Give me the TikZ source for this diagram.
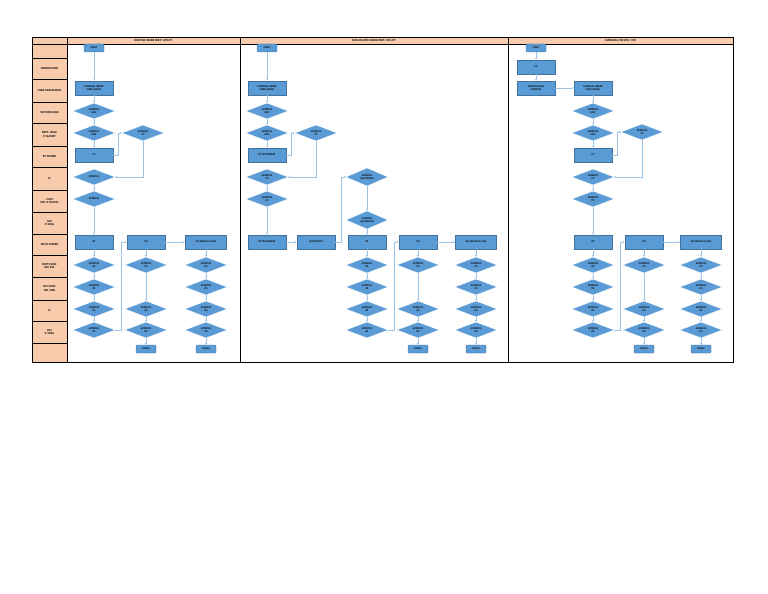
\documentclass[tikz,border=0pt]{standalone}
\usepackage{fontspec}
\setmainfont{Carlito}
\usetikzlibrary{shapes.geometric,arrows.meta}
\definecolor{bfill}{HTML}{5B9BD5}
\definecolor{bdraw}{HTML}{41719C}
\definecolor{peach}{HTML}{F8CBAD}
\definecolor{ln}{HTML}{9DC3E6}
\tikzset{
 every node/.style={font=\fontsize{2.6}{3}\selectfont\bfseries, align=center},
 bx/.style={rectangle, fill=bfill, draw=bdraw, line width=0.6pt, minimum width=38pt, minimum height=14pt, inner sep=0pt},
 wbx/.style={bx, minimum width=41pt},
 sbx/.style={rectangle, rounded corners=1.2pt, fill=bfill, draw=bdraw, line width=0.4pt, minimum width=20pt, minimum height=8pt, inner sep=0pt},
 dm/.style={diamond, fill=bfill, draw=white, line width=0.3pt, minimum width=42pt, minimum height=16pt, inner sep=0pt},
 ar/.style={ln, line width=0.5pt, -{Stealth[length=2pt,width=2pt]}},
 lab/.style={font=\fontsize{3}{3.6}\selectfont\bfseries}
}
\newcommand{\bottompart}[4]{%
 \node[bx] (#1pr) at (#2,242) {PR};
 \node[bx] (#1po) at (#3,242) {PO};
 \node[wbx] (#1pa) at (#4,242) {PO ABOVE 50 JUTA};
 \node[dm] (#1r1) at (#2,265) {APPROVE\\PR};
 \node[dm] (#1r2) at (#2,287) {APPROVE\\PR};
 \node[dm] (#1r3) at (#2,309) {APPROVE\\PR};
 \node[dm] (#1r4) at (#2,330) {APPROVE\\PR};
 \node[dm] (#1o1) at (#3,265) {APPROVE\\PO};
 \node[dm] (#1o3) at (#3,309) {APPROVE\\PO};
 \node[dm] (#1o4) at (#3,330) {APPROVE\\PO};
 \node[dm] (#1a1) at (#4,265) {APPROVE\\PO};
 \node[dm] (#1a2) at (#4,287) {APPROVE\\PO};
 \node[dm] (#1a3) at (#4,309) {APPROVE\\PO};
 \node[dm] (#1a4) at (#4,330) {APPROVE\\PO};
 \node[sbx] (#1f1) at (#3,349) {FINISH};
 \node[sbx] (#1f2) at (#4,349) {FINISH};
 \draw[ar] (#1pr) -- (#1r1); \draw[ar] (#1r1) -- (#1r2); \draw[ar] (#1r2) -- (#1r3); \draw[ar] (#1r3) -- (#1r4);
 \draw[ar] (#1r4.east) -- ++(6pt,0) |- (#1po.west);
 \draw[ar] (#1po) -- (#1o1); \draw[ar] (#1o1) -- (#1o3); \draw[ar] (#1o3) -- (#1o4); \draw[ar] (#1o4) -- (#1f1);
 \draw[ar] (#1po) -- (#1pa);
 \draw[ar] (#1pa) -- (#1a1); \draw[ar] (#1a1) -- (#1a2); \draw[ar] (#1a2) -- (#1a3); \draw[ar] (#1a3) -- (#1a4); \draw[ar] (#1a4) -- (#1f2);
}
\begin{document}
\begin{tikzpicture}[x=1pt,y=-1pt]
\useasboundingbox (0,0) rectangle (768,594);
\fill[white] (0,0) rectangle (768,594);
% frame
\fill[peach] (32,37) rectangle (733,44);
\fill[peach] (32,44) rectangle (67,362);
\foreach \y in {58,79,102,123,146,167,190,212,234,255,277,300,321,343} \draw[line width=0.6pt] (32,\y) -- (67,\y);
\draw[line width=0.6pt] (32,44) -- (733,44);
\foreach \x in {67,240,508} \draw[line width=0.6pt] (\x,37) -- (\x,362);
\draw[line width=0.8pt] (32,37) rectangle (733,362);
\node[lab] (h1) at (153.5,40.5) {ROUTINE SPARE PART/ UTILITY};
\node[lab] (h2) at (374,40.5) {NON ROUTIN SPARE PART/ UTILITY};
\node[lab] (h3) at (620.5,40.5) {MATERIAL FOR WO / IPO};
\node[lab] (l1) at (49.5,68.5) {PRODUCTION};
\node[lab] (l2) at (49.5,90.5) {USER/HERMAWAN};
\node[lab] (l3) at (49.5,112.5) {SECTION HEAD};
\node[lab] (l4) at (49.5,134.5) {DEPT. HEAD\\P. SLAMET};
\node[lab] (l5) at (49.5,156.5) {PP MAKER};
\node[lab] (l6) at (49.5,178.5) {IC};
\node[lab] (l7) at (49.5,201) {V GM\\MR. H LYLONG};
\node[lab] (l8) at (49.5,223) {GM\\P. GING};
\node[lab] (l9) at (49.5,244.5) {PR PO MAKER};
\node[lab] (l10) at (49.5,266) {DEPT HEAD\\IBU INA};
\node[lab] (l11) at (49.5,288.5) {DIV HEAD\\MR. SISN};
\node[lab] (l12) at (49.5,310.5) {IC};
\node[lab] (l13) at (49.5,332) {GM\\P. GING};
% section 1
\node[sbx] (as) at (94,48) {START};
\node[bx] (amof) at (94,88) {MATERIAL ORDER\\FORM (MOF)};
\node[dm] (ad1) at (94,111) {APPROVE\\MOF};
\node[dm] (ad2) at (94,133) {APPROVE\\MOF};
\node[bx] (app) at (94,155) {PP};
\node[dm] (adpp) at (143,133) {APPROVE\\PP};
\node[dm] (ad3) at (94,177) {APPROVE};
\node[dm] (ad4) at (94,199) {APPROVE};
\draw[ar] (as) -- (amof); \draw[ar] (amof) -- (ad1); \draw[ar] (ad1) -- (ad2); \draw[ar] (ad2) -- (app);
\draw[ar] (app.east) -- ++(5pt,0) |- (adpp.west);
\draw[ar] (adpp.south) |- (ad3.east);
\draw[ar] (ad3) -- (ad4);
\bottompart{a}{94}{146}{206}
\draw[ar] (ad4) -- (apr);
% section 2
\node[sbx] (bs) at (267,48) {START};
\node[bx] (bmof) at (267,88) {MATERIAL ORDER\\FORM (MOF)};
\node[dm] (bd1) at (267,111) {APPROVE\\MOF};
\node[dm] (bd2) at (267,133) {APPROVE\\MOF};
\node[bx] (bpp) at (267,155) {PP TEMPORARY};
\node[dm] (bdpp) at (316,133) {APPROVE\\PP};
\node[dm] (bd3) at (267,177) {APPROVE\\PP};
\node[dm] (bd4) at (267,199) {APPROVE\\PP};
\node[bx] (bpt) at (267,242) {PP TEMPORARY};
\node[bx] (bq) at (316,242) {QUOTATION};
\node[dm] (bq1) at (367,177) {APPROVE\\QUOTATION};
\node[dm] (bq2) at (367,220) {APPROVE\\QUOTATION};
\draw[ar] (bs) -- (bmof); \draw[ar] (bmof) -- (bd1); \draw[ar] (bd1) -- (bd2); \draw[ar] (bd2) -- (bpp);
\draw[ar] (bpp.east) -- ++(5pt,0) |- (bdpp.west);
\draw[ar] (bdpp.south) |- (bd3.east);
\draw[ar] (bd3) -- (bd4); \draw[ar] (bd4) -- (bpt); \draw[ar] (bpt) -- (bq);
\draw[ar] (bq.east) -- ++(6pt,0) |- (bq1.west);
\draw[ar] (bq1) -- (bq2);
\bottompart{b}{367}{418}{476}
\draw[ar] (bq2) -- (bpr);
% section 3
\node[sbx] (cs) at (536,48) {START};
\node[bx] (cpo) at (536,67) {PO};
\node[bx] (cper) at (536,88) {PERHITUNGAN\\MATERIAL};
\node[bx] (cmof) at (593,88) {MATERIAL ORDER\\FORM (MOF)};
\node[dm] (cd1) at (593,111) {APPROVE\\MOF};
\node[dm] (cd2) at (593,133) {APPROVE\\MOF};
\node[bx] (cpp) at (593,155) {PP};
\node[dm] (cdpp) at (642,132) {APPROVE\\PP};
\node[dm] (cd3) at (593,177) {APPROVE\\PP};
\node[dm] (cd4) at (593,199) {APPROVE\\PP};
\draw[ar] (cs) -- (cpo); \draw[ar] (cpo) -- (cper); \draw[ar] (cper) -- (cmof);
\draw[ar] (cmof) -- (cd1); \draw[ar] (cd1) -- (cd2); \draw[ar] (cd2) -- (cpp);
\draw[ar] (cpp.east) -- ++(5pt,0) |- (cdpp.west);
\draw[ar] (cdpp.south) |- (cd3.east);
\draw[ar] (cd3) -- (cd4);
\bottompart{c}{593}{644}{701}
\draw[ar] (cd4) -- (cpr);
\end{tikzpicture}
\end{document}
